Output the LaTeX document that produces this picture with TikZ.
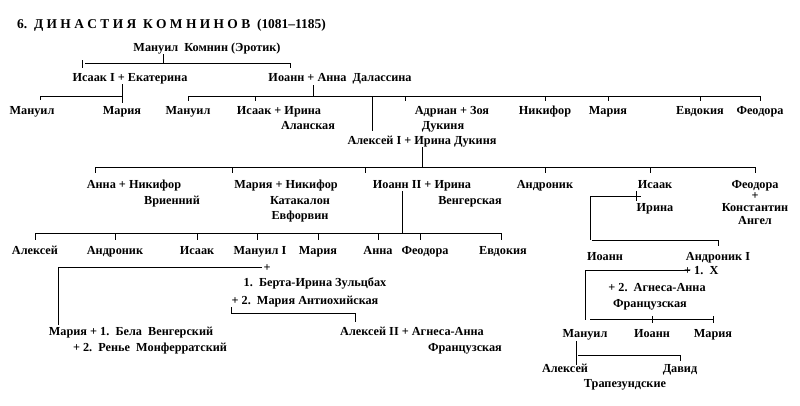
\documentclass[tikz,border=0pt]{standalone}
\usepackage{fontspec}
\setmainfont{Liberation Serif}
\begin{document}
\begin{tikzpicture}[x=1bp,y=-1bp,
  nm/.style={font=\bfseries\fontsize{12.3}{13}\selectfont,inner sep=0pt,anchor=base},
  ln/.style={line width=1pt}]
\useasboundingbox (0,0) rectangle (800,405);
\node[nm,anchor=base west,font=\bfseries\fontsize{13.5}{14}\selectfont] (title) at (17,28) {6.\ \ Д И Н А С Т И Я\ \ К О М Н И Н О В\ \ (1081--1185)};
\node[nm] (root) at (207,51) {Мануил\ \ Комнин (Эротик)};
\draw[ln] (163,54) -- (163,63);
\draw[ln] (85,63) -- (290,63);
\draw[ln] (82,60) -- (82,68) (290,63) -- (290,68);
\node[nm] (isaak) at (130,81) {Исаак I + Екатерина};
\node[nm] (ioann) at (340,81) {Иоанн + Анна\ \ Далассина};
% Isaak I children
\draw[ln] (122,84) -- (122,103) (122,96) -- (40,96) -- (40,100);
\node[nm] (m1) at (32,114) {Мануил};
\node[nm] (mar1) at (122,114) {Мария};
% Ioann children
\draw[ln] (313,85) -- (313,96) (188,96) -- (760,96);
\foreach \x in {188,255,405,545,608,700,760} \draw[ln] (\x,96) -- (\x,101);
\node[nm] (m2) at (188,114) {Мануил};
\node[nm] (is2) at (279,114) {Исаак + Ирина};
\node[nm] (alan) at (308,129) {Аланская};
\node[nm] (adr) at (452,114) {Адриан + Зоя};
\node[nm] (duk) at (443,129) {Дукиня};
\node[nm] (nik) at (545,114) {Никифор};
\node[nm] (mar2) at (608,114) {Мария};
\node[nm] (evd) at (700,114) {Евдокия};
\node[nm] (feo) at (760,114) {Феодора};
\draw[ln] (372,96) -- (372,131);
\node[nm] (alex) at (422,144) {Алексей I + Ирина Дукиня};
\draw[ln] (422,147) -- (422,167) (95,167) -- (755,167);
\foreach \x in {95,232,365,545,650,755} \draw[ln] (\x,167) -- (\x,173);
\node[nm] (anna) at (134,188) {Анна + Никифор};
\node[nm] (vri) at (172,204) {Вриенний};
\node[nm] (mar3) at (286,188) {Мария + Никифор};
\node[nm] (kat) at (300,204) {Катакалон};
\node[nm] (evf) at (300,219) {Евфорвин};
\node[nm] (io2) at (422,188) {Иоанн II + Ирина};
\node[nm] (veng) at (470,204) {Венгерская};
\node[nm] (andr) at (545,188) {Андроник};
\node[nm] (is3) at (655,188) {Исаак};
\node[nm] (ir3) at (655,211) {Ирина};
\draw[ln] (590,196) -- (632,196) (636,191) -- (636,201) (631,196) -- (641,196);
\node[nm] (feo2) at (755,188) {Феодора};
\node[nm] (plusF) at (755,199) {+};
\node[nm] (kon) at (755,211) {Константин};
\node[nm] (ang) at (755,224) {Ангел};
\draw[ln] (590,196) -- (590,240) (592,240) -- (718,240) -- (718,246);
\node[nm] (io3) at (605,260) {Иоанн};
\node[nm] (an1) at (718,260) {Андроник I};
% Ioann II children
\draw[ln] (402,191) -- (402,233) (35,233) -- (501,233);
\foreach \x in {35,115,197,257,318,378,420,501} \draw[ln] (\x,233) -- (\x,240);
\node[nm] (a1) at (35,254) {Алексей};
\node[nm] (a2) at (115,254) {Андроник};
\node[nm] (a3) at (197,254) {Исаак};
\node[nm] (a4) at (260,254) {Мануил I};
\node[nm] (a5) at (318,254) {Мария};
\node[nm] (a6) at (378,254) {Анна};
\node[nm] (a7) at (425,254) {Феодора};
\node[nm] (a8) at (503,254) {Евдокия};
% Manuel I
\node[nm] (pl1) at (267,271) {+};
\draw[ln] (262,267) -- (58,267) -- (58,325);
\node[nm] (ber) at (315,286) {1.\ \ Берта-Ирина Зульцбах};
\node[nm] (mant) at (305,304) {+ 2.\ \ Мария Антиохийская};
\draw[ln] (231,307) -- (231,313) -- (355,313) -- (355,322);
\node[nm] (mar4) at (131,335) {Мария + 1.\ \ Бела\ \ Венгерский};
\node[nm] (ren) at (150,351) {+ 2.\ \ Ренье\ \ Монферратский};
\node[nm] (al2) at (412,335) {Алексей II + Агнеса-Анна};
\node[nm] (fr1) at (465,351) {Французская};
% Andronikos I
\draw[ln] (585,270) -- (690,270) (585,270) -- (585,320);
\node[nm,anchor=base west] (x1) at (684,274) {+ 1.\ \ X};
\node[nm] (ag2) at (657,291) {+ 2.\ \ Агнеса-Анна};
\node[nm] (fr2) at (650,307) {Французская};
\draw[ln] (590,319) -- (713,319);
\foreach \x in {652,713} \draw[ln] (\x,316) -- (\x,323);
\node[nm] (m5) at (585,337) {Мануил};
\node[nm] (io5) at (652,337) {Иоанн};
\node[nm] (mar5) at (713,337) {Мария};
\draw[ln] (576,341) -- (576,365) (578,355) -- (680,355) -- (680,361);
\node[nm] (al5) at (565,372) {Алексей};
\node[nm] (dav) at (680,372) {Давид};
\node[nm] (tra) at (625,387) {Трапезундские};
\end{tikzpicture}
\end{document}
